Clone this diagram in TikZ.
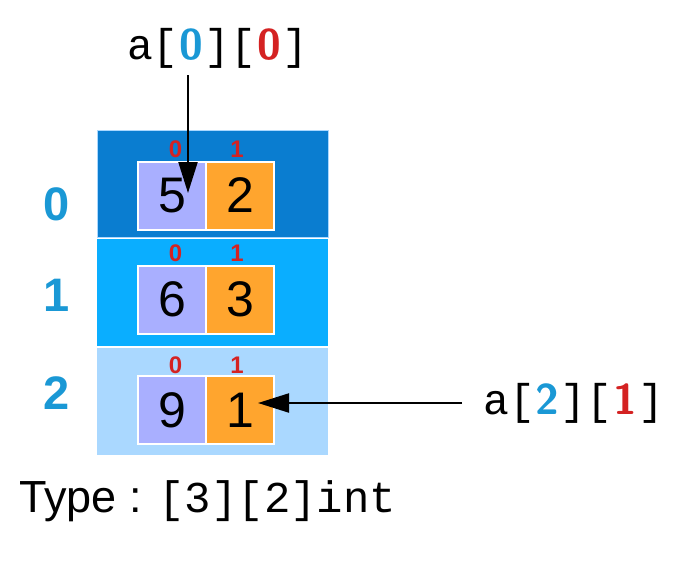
\documentclass[tikz,border=0pt]{standalone}
\usepackage{fontspec}
\setmainfont{Liberation Sans}
\setmonofont{Liberation Mono}
\usetikzlibrary{arrows.meta}
\definecolor{rowdark}{HTML}{0A7DD0}
\definecolor{rowmid}{HTML}{0AAEFF}
\definecolor{rowlight}{HTML}{AAD8FF}
\definecolor{cellleft}{HTML}{A9AFFF}
\definecolor{cellright}{HTML}{FFA52E}
\definecolor{idxblue}{HTML}{1A98D5}
\definecolor{idxred}{HTML}{D42222}
\newcommand{\rowsub}[1]{\textcolor{idxblue}{\makebox[0.6em]{\sffamily\bfseries #1}}}
\newcommand{\colsub}[1]{\textcolor{idxred}{\makebox[0.6em]{\sffamily\bfseries #1}}}
\begin{document}
\begin{tikzpicture}[x=1pt, y=-1pt, node distance=68pt,
  band/.style = {minimum width=231pt, minimum height=107pt, inner sep=0pt},
  cell/.style = {draw=white, line width=2pt, minimum width=68pt, minimum height=68pt, inner sep=0pt, font=\fontsize{50}{50}\selectfont},
  lcell/.style = {cell, fill=cellleft},
  rcell/.style = {cell, fill=cellright},
  colnum/.style = {text=idxred, font=\bfseries\fontsize{24}{24}\selectfont},
  rownum/.style = {text=idxblue, font=\bfseries\fontsize{47}{47}\selectfont},
  memtext/.style = {inner ysep=7pt, font=\ttfamily\fontsize{43}{43}\selectfont},
  ptr/.style = {-{Triangle[length=31pt,width=19pt]}, line width=2.2pt}]
\useasboundingbox (0,0) rectangle (682,578);

% rows of the array
\node[band, fill=rowdark, draw=rowlight, line width=1pt] (r0) at (212.5,183.5) {};
\node[band, fill=rowmid] (r1) at (212.5,292.5) {};
\node[band, fill=rowlight] (r2) at (212.5,401.5) {};

% elements
\node[lcell] (c00) at (172,195.5) {5};
\node[rcell] (c01) [right of=c00] {2};
\node[lcell] (c10) at (172,299.5) {6};
\node[rcell] (c11) [right of=c10] {3};
\node[lcell] (c20) at (172,410) {9};
\node[rcell] (c21) [right of=c20] {1};

% column indices
\node[colnum] (k00) at (175.5,149) {0};
\node[colnum] (k01) at (237,149) {1};
\node[colnum] (k10) at (175.5,253) {0};
\node[colnum] (k11) at (237,253) {1};
\node[colnum] (k20) at (175.5,365) {0};
\node[colnum] (k21) at (237,365) {1};

% row indices
\node[rownum] (n0) at (57,204) {0};
\node[rownum] (n1) at (57,295) {1};
\node[rownum] (n2) at (57,393) {2};

% accessors
\node[memtext] (lbl00) at (217.5,48) {a[\rowsub{0}][\colsub{0}]};
\node[memtext, anchor=west, inner xsep=21pt] (lbl21) at (462,403) {a[\rowsub{2}][\colsub{1}]};
\coordinate (tip00) at (188,193);
\coordinate (tip21) at (258,403);

\draw[ptr] (lbl00.south -| tip00) -- (tip00);
\draw[ptr] (lbl21.west) -- (tip21);

\node[anchor=base west, inner sep=0pt, font=\fontsize{45}{45}\selectfont] (ty) at (19,512) {Type : \texttt{\fontsize{44}{44}\selectfont[3][2]int}};

\end{tikzpicture}
\end{document}
